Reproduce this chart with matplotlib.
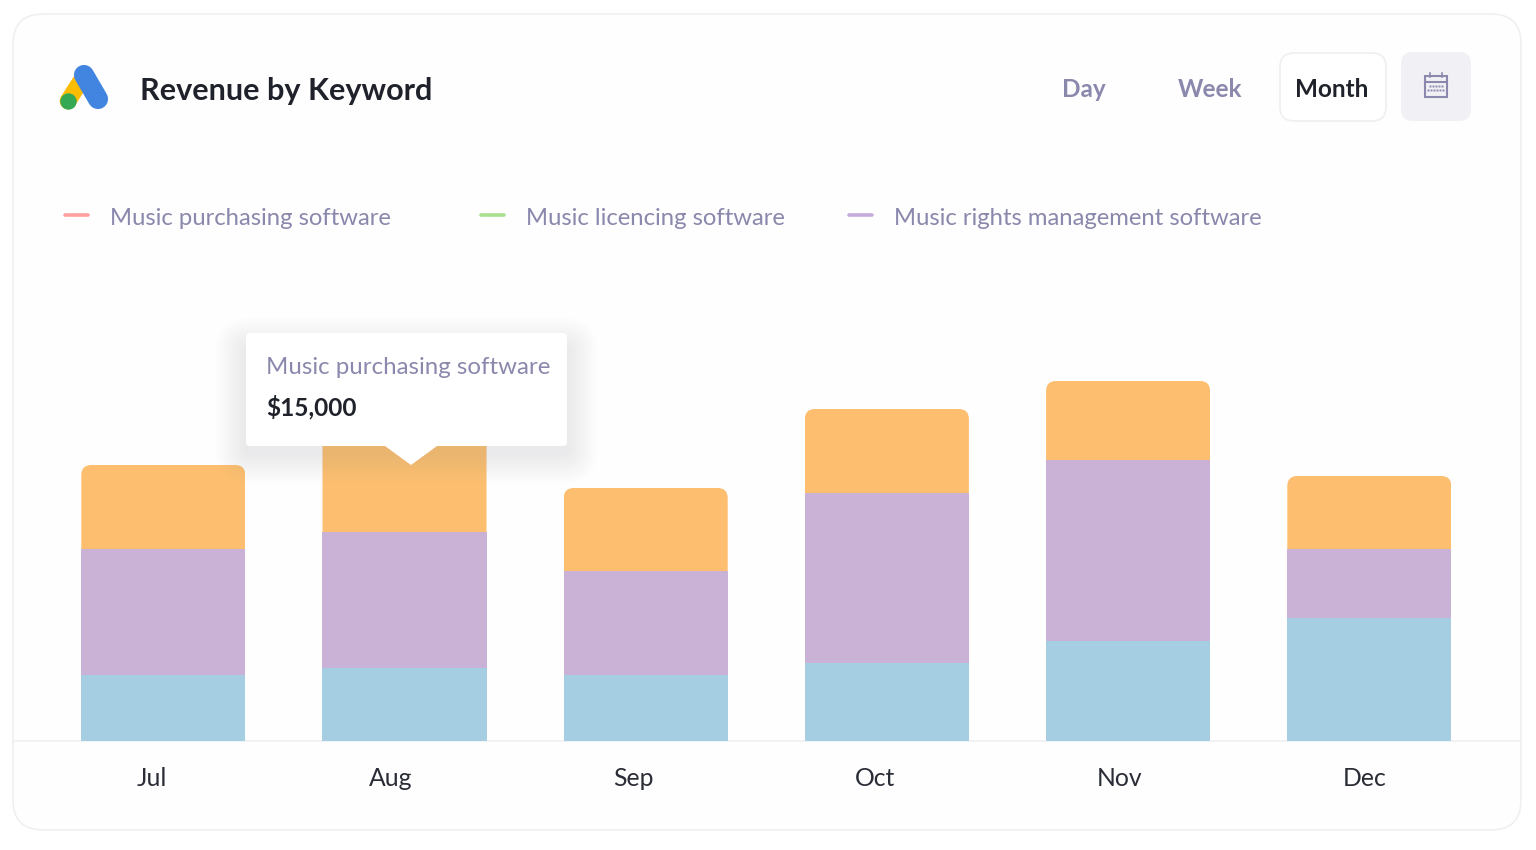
# -*- coding: utf-8 -*-
# Revenue by Keyword card: stacked monthly bars with tooltip
import matplotlib
matplotlib.use("Agg")
import matplotlib.pyplot as plt
from matplotlib.patches import FancyBboxPatch, Polygon, Rectangle
from matplotlib.transforms import IdentityTransform

plt.rcParams["font.family"] = ["Lato", "DejaVu Sans"]

# ---- data
months = ["Jul", "Aug", "Sep", "Oct", "Nov", "Dec"]
blue_values = [9900, 10950, 9900, 11700, 15000, 18450]
purple_values = [18900, 20400, 15600, 25500, 27150, 10350]
orange_values = [12600, 15000, 12450, 12600, 11850, 10950]
legend_labels = ["Music purchasing software", "Music licencing software",
                 "Music rights management software"]
legend_colors = ["#FF9F9F", "#A8E08E", "#C6ACDA"]
tooltip_label = "Music purchasing software"
tooltip_value = "$15,000"

BLUE, PURPLE, ORANGE = "#A6CEE3", "#CAB2D6", "#FDBF6F"
MUTED = "#8A88AC"
DARK = "#20222B"
W, H = 1536, 850

fig = plt.figure(figsize=(W / 100, H / 100), dpi=100, facecolor="white")


def px_axes(left, top, right, bottom, **kw):
    return fig.add_axes([left / W, 1 - bottom / H, (right - left) / W, (bottom - top) / H], **kw)


# card behind everything
bg = fig.add_axes([0, 0, 1, 1], zorder=0)
bg.set_xlim(0, W)
bg.set_ylim(H, 0)
bg.axis("off")
bg.add_patch(FancyBboxPatch((13, 14), 1508, 816, boxstyle="round,pad=0,rounding_size=30",
                            fc="#FEFEFE", ec="#EFEFF2", lw=1.1))
bg.plot([13, 1521], [741, 741], color="#EFEFF2", lw=1.1)

# ---- stacked bars, one category step is 241.2 px, one px is 150 dollars
ax = px_axes(13, 141, 1521, 741, zorder=1)
ax.patch.set_alpha(0)
ax.set_xlim((13 - 163.3) / 241.2, (1521 - 163.3) / 241.2)
ax.set_ylim(0, 600 * 150)
ax.axis("off")
x = list(range(len(months)))
bottom_purple = blue_values
bottom_orange = [b + p for b, p in zip(blue_values, purple_values)]
ax.bar(x, blue_values, width=0.68, color=BLUE)
ax.bar(x, purple_values, width=0.68, bottom=bottom_purple, color=PURPLE)
top_bars = ax.bar(x, orange_values, width=0.68, bottom=bottom_orange, color=ORANGE)

# rounded top corners, clipped in display coordinates
fig.canvas.draw()
for bar in top_bars:
    box = bar.get_window_extent()
    clip = FancyBboxPatch((box.x0, box.y0 - 30), box.width, box.height + 30,
                          boxstyle="round,pad=0,rounding_size=10", transform=IdentityTransform())
    bar.set_clip_path(clip)

# ---- everything else is drawn in pixel coordinates
ui = fig.add_axes([0, 0, 1, 1], zorder=2)
ui.patch.set_alpha(0)
ui.set_xlim(0, W)
ui.set_ylim(H, 0)
ui.axis("off")

# month labels sit a little left of the bar centres in the original
for name, lx in zip(months, [152, 391, 633, 875, 1120, 1365]):
    ui.text(lx, 779, name, fontsize=17.8, color="#2A2C36", ha="center", va="center")

# logo
ui.plot([84, 68], [76, 101], color="#FBBC04", lw=12, solid_capstyle="round")
ui.plot([84, 98], [75, 99], color="#4285E0", lw=14.5, solid_capstyle="round")
ui.plot([68], [101], "o", color="#34A853", ms=11.8, mew=0)

ui.text(140, 91, "Revenue by Keyword", fontsize=22.05, color=DARK, weight="bold",
        ha="left", va="center")

# period switch
ui.text(1084, 89, "Day", fontsize=17.5, color=MUTED, weight="bold", ha="center", va="center")
ui.text(1210.5, 89, "Week", fontsize=17.5, color=MUTED, weight="bold", ha="center", va="center")
ui.add_patch(FancyBboxPatch((1280, 53), 106, 68, boxstyle="round,pad=0,rounding_size=14",
                            fc="white", ec="#EFEFF2", lw=1.2))
ui.text(1332, 89, "Month", fontsize=17.5, color=DARK, weight="bold", ha="center", va="center")

# calendar button
ui.add_patch(FancyBboxPatch((1401, 52), 70, 69, boxstyle="round,pad=0,rounding_size=12",
                            fc="#F1F1F5", ec="none"))
ui.add_patch(Rectangle((1425, 76), 22, 21, fc="none", ec=MUTED, lw=1.5))
ui.plot([1425, 1447], [82, 82], color=MUTED, lw=1.5)
for kx in (1430, 1442):
    ui.plot([kx, kx], [73, 77], color=MUTED, lw=1.2)
for row, dots in ((86, (1430, 1433, 1436, 1439, 1442)), (90, (1428, 1431, 1434, 1437, 1440, 1443))):
    ui.plot(dots, [row] * len(dots), ls="none", marker="s", ms=1.4, color=MUTED, mew=0)

# legend
for color, label, (x0, tx) in zip(legend_colors, legend_labels, [(65, 110), (481, 526), (849, 894)]):
    ui.plot([x0, x0 + 23], [215, 215], color=color, lw=2.6, solid_capstyle="round")
    ui.text(tx, 218, label, fontsize=17.2, color=MUTED, ha="left", va="center")

# tooltip shadow, stacked translucent boxes for the blur
for grow in range(30, 0, -3):
    ui.add_patch(FancyBboxPatch((246 - grow, 348 - grow), 321 + 2 * grow, 105 + 2 * grow,
                                boxstyle=f"round,pad=0,rounding_size={grow + 4}",
                                fc="#4A4A70", ec="none", alpha=0.0085))
ui.add_patch(Polygon([(385, 446), (437, 446), (411, 465)], fc="white", ec="none", zorder=3))
ui.add_patch(FancyBboxPatch((246, 333), 321, 113, boxstyle="round,pad=0,rounding_size=4",
                            fc="white", ec="none", zorder=3))
ui.text(266, 367, tooltip_label, fontsize=17.25, color=MUTED, ha="left", va="center", zorder=4)
ui.text(266, 407, tooltip_value, fontsize=17.6, color=DARK, weight="bold", ha="left", va="center", zorder=4)

fig.savefig("out.png", dpi=100, facecolor="white")
